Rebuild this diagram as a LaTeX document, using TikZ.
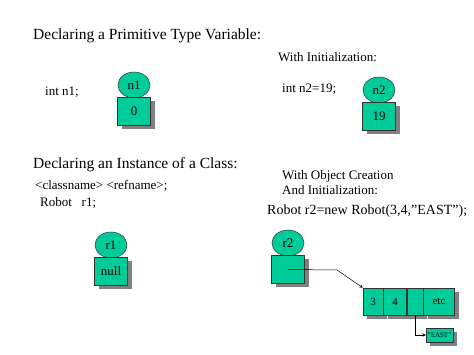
\documentclass[tikz,border=0pt]{standalone}
\usepackage{fontspec}
\setmainfont{Liberation Serif}
\usetikzlibrary{shapes.geometric,shadows,positioning}
\definecolor{varfill}{RGB}{0,204,153}

\begin{document}
\begin{tikzpicture}[x=1pt, y=-1pt,
   every node/.style={inner sep=0pt, font=\fontsize{13}{15}\selectfont},
   title/.style={anchor=base west, font=\fontsize{15.5}{18}\selectfont},
   code/.style={anchor=base west},
   shade box/.style={draw=black!80, line width=0.5pt, fill=varfill,
     drop shadow={shadow xshift=4pt, shadow yshift=-4pt, fill=black!50, opacity=1}},
   varname/.style={ellipse, draw=black!80, line width=0.5pt, fill=varfill,
     minimum width=32pt, minimum height=26pt},
   varbox/.style={shade box, minimum width=33pt, minimum height=28pt},
   cell/.style={shade box, minimum height=27pt, font=\fontsize{11}{13}\selectfont}]
\useasboundingbox (0,0) rectangle (474,355);

\node[title] (prim) at (33,40) {Declaring a Primitive Type Variable:};
\node[code] (n1decl) at (45,96) {int n1;};
\node[code] (init) at (278,62) {With Initialization:};
\node[code] (n2decl) at (282,93) {int n2=19;};

\node[varname] (n1) at (134,85) {n1};
\node[varbox, below=-1pt of n1] (n1val) {0};
\node[varname] (n2) at (379,90) {n2};
\node[varbox, below=-1pt of n2] (n2val) {19};

\node[title] (inst) at (33,169) {Declaring an Instance of a Class:};
\node[code] (syntax) at (35,190) {<classname> <refname>;};
\node[code] (r1decl) at (40,207) {Robot~~~r1;};
\node[code] (creat) at (282,180) {With Object Creation};
\node[code] (creat2) at (282,195) {And Initialization:};
\node[code, font=\fontsize{14}{16}\selectfont] (r2decl) at (267,215)
  {Robot r2=new Robot(3,4,”EAST”);};

\node[varname] (r1) at (111,245) {r1};
\node[varbox, below=-1pt of r1] (r1val) {null};
\node[varname] (r2) at (288,243) {r2};
\node[varbox, below=-1pt of r2] (r2val) {};

\node[cell, minimum width=20pt] (c1) at (373,301.5) {3};
\node[cell, minimum width=23pt, right=0pt of c1] (c2) {4};
\node[cell, minimum width=16pt, right=0pt of c2] (c3) {};
\node[cell, minimum width=31pt, right=0pt of c3] (c4) {etc};
\node[shade box, minimum width=27pt, minimum height=14pt,
  font=\fontsize{7}{8}\selectfont] (east) at (439.5,335) {”EAST”};

\coordinate (bend) at (337,270);
\draw[-stealth, line width=0.5pt] (r2val.center) -- (bend) -- (c1.north west);
\draw[-stealth, line width=0.5pt] (c3.south) |- (east.west);
\end{tikzpicture}
\end{document}
